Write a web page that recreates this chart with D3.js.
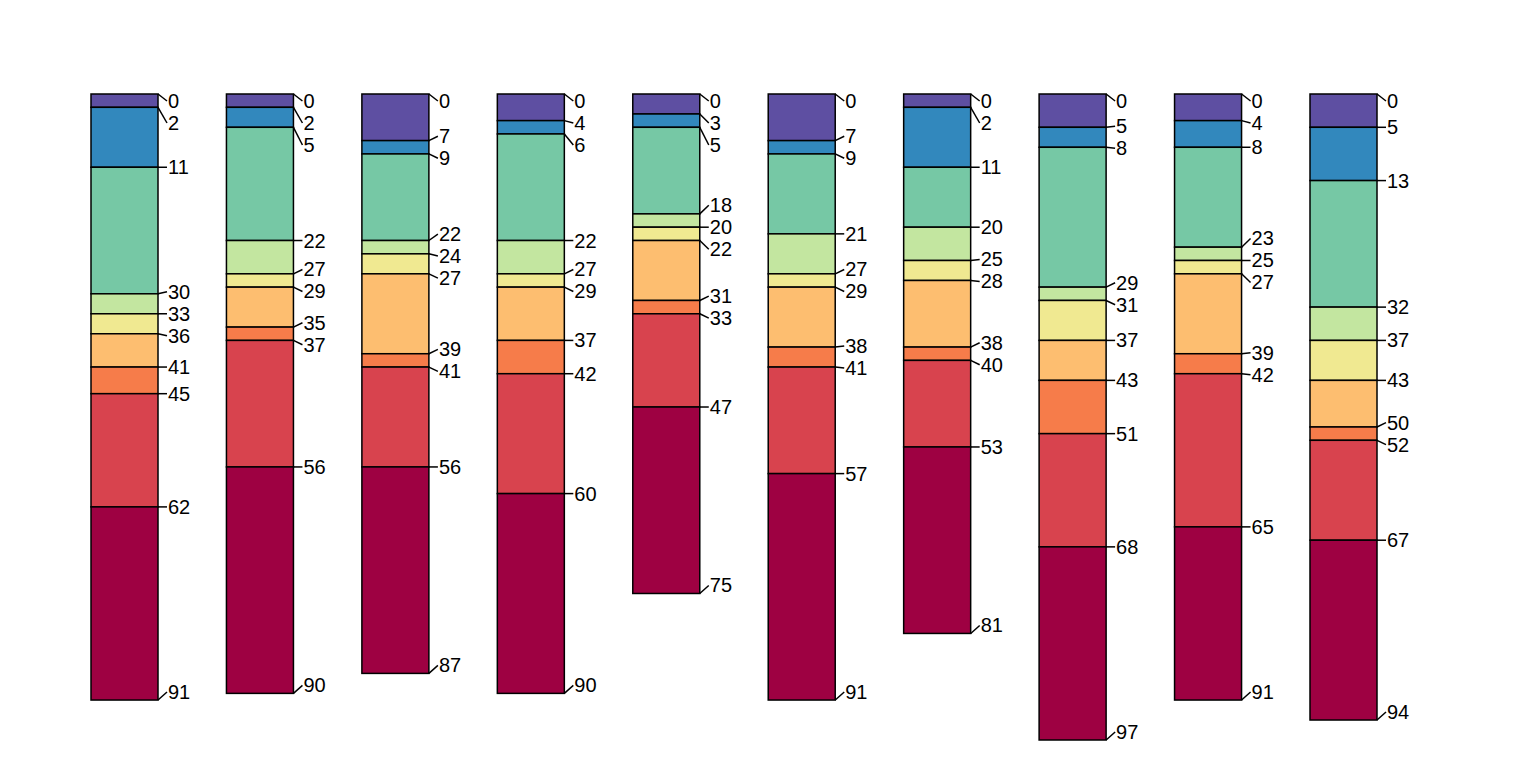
<!DOCTYPE html>
<html><head><meta charset="utf-8">
<script src="https://cdn.jsdelivr.net/npm/d3@7"></script>
<style>body{margin:0;background:#fff}</style>
</head><body>
<svg id="canvas" width="1536" height="768"></svg>
<script>
(function() {
  // horizon boundaries (cm) for each profile
  var profiles = ["1","2","3","4","5","6","7","8","9","10"]
  var depths = [
    [0,2,11,30,33,36,41,45,62,91],
    [0,2,5,22,27,29,35,37,56,90],
    [0,7,9,22,24,27,39,41,56,87],
    [0,4,6,22,27,29,37,42,60,90],
    [0,3,5,18,20,22,31,33,47,75],
    [0,7,9,21,27,29,38,41,57,91],
    [0,2,11,20,25,28,38,40,53,81],
    [0,5,8,29,31,37,43,51,68,97],
    [0,4,8,23,25,27,39,42,65,91],
    [0,5,13,32,37,43,50,52,67,94]
  ]
  var colors = ["#5E4FA2","#3288BD","#76C8A5","#C3E6A0","#F0E991","#FDBE70","#F67C4A","#D8434E","#9E0142"]

  var svg = d3.select("#canvas")
  var x = d3.scalePoint().domain(profiles).range([91, 1310])
  var y = d3.scaleLinear().domain([0, 97]).range([94, 740])
  var w = 67

  profiles.forEach(function(p, i) {
    var d = depths[i]
    var x0 = x(p)
    var g = svg.append("g")
    var hz = d3.range(d.length - 1).map(function(k) { return {top: d[k], bot: d[k+1], k: k} })
    g.selectAll("rect").data(hz).join("rect")
      .attr("x", x0).attr("width", w)
      .attr("y", h => y(h.top)).attr("height", h => y(h.bot) - y(h.top))
      .attr("fill", h => colors[h.k])
      .attr("stroke", "black").attr("stroke-width", 1.5)

    // label placement with simple relaxation
    var lo = y(0) + 7, hi = y(d[d.length-1]) - 8, gap = 22
    var ly = d.map(v => Math.min(hi, Math.max(lo, y(v))))
    for (var it = 0; it < 300; it++) {
      for (var k = 1; k < ly.length; k++) {
        var diff = ly[k] - ly[k-1]
        if (diff < gap) { var m = (gap - diff) / 2; ly[k-1] -= m; ly[k] += m }
      }
      ly = ly.map(v => Math.min(hi, Math.max(lo, v)))
    }
    var xr = x0 + w
    g.selectAll("line.lead").data(d).join("line").attr("class","lead")
      .attr("x1", xr).attr("y1", v => y(v))
      .attr("x2", xr + 9).attr("y2", (v, k) => ly[k])
      .attr("stroke", "black").attr("stroke-width", 1.5)
    g.selectAll("text").data(d).join("text")
      .attr("x", xr + 10).attr("y", (v, k) => ly[k])
      .attr("dy", "0.35em")
      .attr("font-family", "Liberation Sans, Arial, sans-serif").attr("font-size", 20)
      .text(v => v)
  })
})();
</script>
</body></html>
